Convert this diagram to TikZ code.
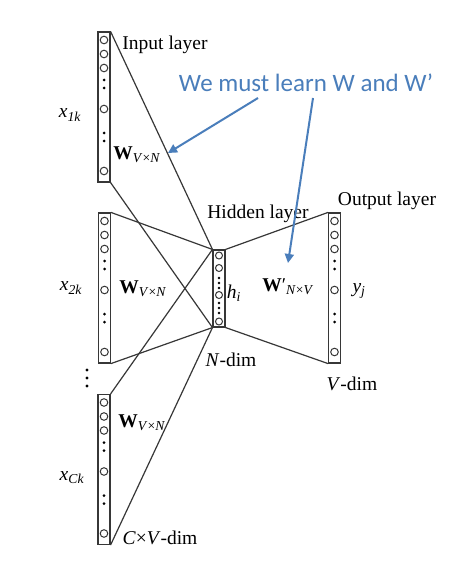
\documentclass[tikz,border=0pt]{standalone}
\usepackage{fontspec}
\setmainfont{Liberation Serif}
\newfontfamily\notefont{Carlito}
\usetikzlibrary{arrows.meta, positioning}
\definecolor{noteblue}{RGB}{74,126,187}
\definecolor{wire}{RGB}{55,55,55}

\begin{document}
\begin{tikzpicture}[x=1pt, y=-1pt, font=\fontsize{19.5}{22}\selectfont]
	\def\colw{12}
	\def\rad{3.8}
	\tikzset{
		layer/.pic={
			code={
				\node[draw=wire, line width=1.1pt, minimum width=\colw, minimum height=150, inner sep=0] (-box) at (0,0) {};
				\foreach \y in {-67,-53,-39,2,64}
					\draw[wire, line width=1pt] (0,\y) circle (\rad);
				\foreach \y in {-27,-19,26,34}
					\fill[black] (0,\y) circle (1.5);
			}
		},
		hidden/.pic={
			code={
				\node[draw=wire, line width=1.1pt, minimum width=\colw, minimum height=77, inner sep=0] (-box) at (0,0) {};
				\foreach \y in {-33,-20.5,6.5,33}
					\draw[wire, line width=1pt] (0,\y) circle (3.5);
				\foreach \y in {-10.5,-5.5,-0.5,14.5,19.5,24.5}
					\fill[black] (0,\y) circle (1.4);
			}
		},
		wires/.style={wire, line width=1.2pt},
		note/.style={noteblue, line width=2pt, -{Triangle[length=9pt, width=9pt]}},
	}

	\fill[white] (0,0) rectangle (474,564);
	\useasboundingbox (0,0) rectangle (474,564);

	\pic (in1) at (104,107) {layer};
	\pic (in2) at (104.5,288) {layer};
	\pic (in3) at (104,469.5) {layer};
	\pic (hid) at (219,288.5) {hidden};
	\pic (out) at (334.5,288) {layer};

	\draw[wires]	(in1-box.north east) -- (hid-box.north west);
	\draw[wires]	(in1-box.south east) -- (hid-box.south west);
	\draw[wires]	(in2-box.north east) -- (hid-box.north west);
	\draw[wires]	(in2-box.south east) -- (hid-box.south west);
	\draw[wires]	(in3-box.north east) -- (hid-box.north west);
	\draw[wires]	(in3-box.south east) -- (hid-box.south west);
	\draw[wires]	(hid-box.north east) -- (out-box.north west);
	\draw[wires]	(hid-box.south east) -- (out-box.south west);

	\foreach \y in {370,378,386}
		\fill[black] (87,\y) circle (1.7);

	\node (inlabel) at (165,45) {Input layer};
	\node (hidlabel) at (258,214) {Hidden layer};
	\node (outlabel) at (387,201) {Output layer};

	\node (xone) at (70,115) {\textit{x}\textsubscript{\textit{1k}}};
	\node (xtwo) at (71,288) {\textit{x}\textsubscript{\textit{2k}}};
	\node (xc) at (72,478) {\textit{x}\textsubscript{\textit{Ck}}};

	\node (wone) at (137,155) {\textbf{W}\textsubscript{\textit{V}×\textit{N}}};
	\node (wtwo) at (143,289) {\textbf{W}\textsubscript{\textit{V}×\textit{N}}};
	\node (wc) at (142,423) {\textbf{W}\textsubscript{\textit{V}×\textit{N}}};
	\node (wout) at (288,287) {\textbf{W}′\textsubscript{\textit{N}×\textit{V}}};

	\node (hi) at (234,293) {\textit{h}\textsubscript{\textit{i}}};
	\node (yj) at (359,291) {\textit{y}\textsubscript{\textit{j}}};

	\node (ndim) at (231,360) {\textit{N}-dim};
	\node (vdim) at (352,384) {\textit{V}-dim};
	\node (cvdim) at (160,538) {\textit{C}×\textit{V}-dim};

	\node[text=noteblue, font=\notefont\fontsize{25}{28}\selectfont] (learn) at (306,83) {We must learn W and W’};
	\coordinate (fromW) at (258,98);
	\coordinate (fromWp) at (313,98);
	\coordinate (toW) at (168,153);
	\coordinate (toWp) at (288,263);
	\draw[note]	(fromW) -- (toW);
	\draw[note]	(fromWp) -- (toWp);
\end{tikzpicture}
\end{document}
